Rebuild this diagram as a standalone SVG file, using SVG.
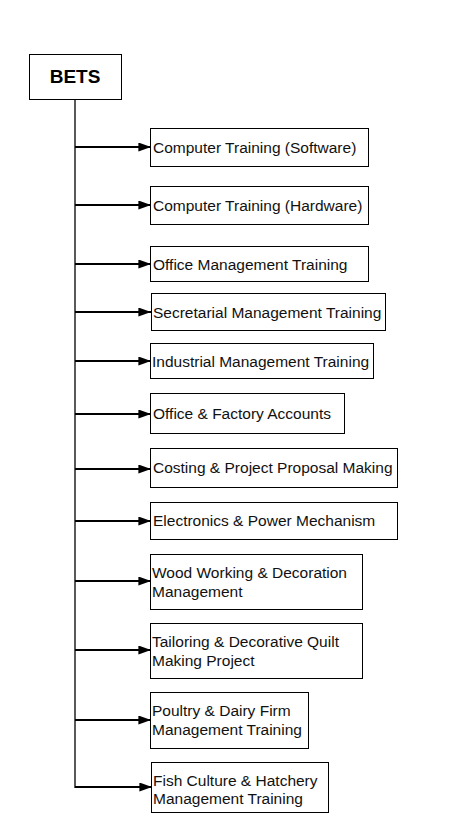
<svg xmlns="http://www.w3.org/2000/svg" width="466" height="825" viewBox="0 0 466 825">
<defs>
<style>
.box{fill:#fff;stroke:#000;stroke-width:1}
.t{font-family:"Liberation Sans",Arial,sans-serif;font-size:15.5px;fill:#111}
.title{font-family:"Liberation Sans",Arial,sans-serif;font-size:19px;font-weight:bold;fill:#000}
.c{stroke:#000;stroke-width:2;fill:none}
</style>
<marker id="ah" viewBox="0 0 14 10" refX="14" refY="5" markerWidth="14" markerHeight="9" markerUnits="userSpaceOnUse" orient="auto">
<path d="M0,0 L14,5 L0,10 Z" fill="#000"/>
</marker>
</defs>
<rect width="466" height="825" fill="#fff"/>
<g id="connectors">
<line x1="75" y1="99" x2="75" y2="788" stroke="#000" stroke-width="1.3"/>
<line class="c" x1="75" y1="147" x2="151" y2="147" marker-end="url(#ah)"/>
<line class="c" x1="75" y1="205" x2="151" y2="205" marker-end="url(#ah)"/>
<line class="c" x1="75" y1="264" x2="151" y2="264" marker-end="url(#ah)"/>
<line class="c" x1="75" y1="312" x2="151" y2="312" marker-end="url(#ah)"/>
<line class="c" x1="75" y1="361" x2="151" y2="361" marker-end="url(#ah)"/>
<line class="c" x1="75" y1="414" x2="151" y2="414" marker-end="url(#ah)"/>
<line class="c" x1="75" y1="469" x2="151" y2="469" marker-end="url(#ah)"/>
<line class="c" x1="75" y1="521" x2="151" y2="521" marker-end="url(#ah)"/>
<line class="c" x1="75" y1="581" x2="151" y2="581" marker-end="url(#ah)"/>
<line class="c" x1="75" y1="650" x2="151" y2="650" marker-end="url(#ah)"/>
<line class="c" x1="75" y1="720" x2="151" y2="720" marker-end="url(#ah)"/>
<line class="c" x1="75" y1="787" x2="152" y2="787" marker-end="url(#ah)"/>
</g>
<g id="bets"><rect class="box" x="29.5" y="54.5" width="92" height="45"/><text class="title" x="75" y="83" text-anchor="middle">BETS</text></g>
<g id="n1"><rect class="box" x="150.5" y="128.5" width="218" height="38"/><text class="t" x="153" y="153">Computer Training (Software)</text></g>
<g id="n2"><rect class="box" x="150.5" y="186.5" width="218" height="38"/><text class="t" x="153" y="211">Computer Training (Hardware)</text></g>
<g id="n3"><rect class="box" x="150.5" y="246.5" width="218" height="35"/><text class="t" x="153" y="270">Office Management Training</text></g>
<g id="n4"><rect class="box" x="151.5" y="293.5" width="234" height="37"/><text class="t" x="153" y="318">Secretarial Management Training</text></g>
<g id="n5"><rect class="box" x="150.5" y="343.5" width="223" height="35"/><text class="t" x="152" y="367">Industrial Management Training</text></g>
<g id="n6"><rect class="box" x="150.5" y="393.5" width="194" height="40"/><text class="t" x="153" y="419">Office &amp; Factory Accounts</text></g>
<g id="n7"><rect class="box" x="150.5" y="448.5" width="247" height="39"/><text class="t" x="153" y="473">Costing &amp; Project Proposal Making</text></g>
<g id="n8"><rect class="box" x="150.5" y="502.5" width="247" height="37"/><text class="t" x="153" y="526">Electronics &amp; Power Mechanism</text></g>
<g id="n9"><rect class="box" x="150.5" y="554.5" width="212" height="55"/><text class="t" x="152" y="578">Wood Working &amp; Decoration</text><text class="t" x="152" y="597">Management</text></g>
<g id="n10"><rect class="box" x="150.5" y="623.5" width="212" height="55"/><text class="t" x="152" y="647">Tailoring &amp; Decorative Quilt</text><text class="t" x="152" y="666">Making Project</text></g>
<g id="n11"><rect class="box" x="150.5" y="692.5" width="158" height="56"/><text class="t" x="152" y="716">Poultry &amp; Dairy Firm</text><text class="t" x="152" y="735">Management Training</text></g>
<g id="n12"><rect class="box" x="151.5" y="762.5" width="177" height="50"/><text class="t" x="153" y="786">Fish Culture &amp; Hatchery</text><text class="t" x="153" y="804">Management Training</text></g>
</svg>
